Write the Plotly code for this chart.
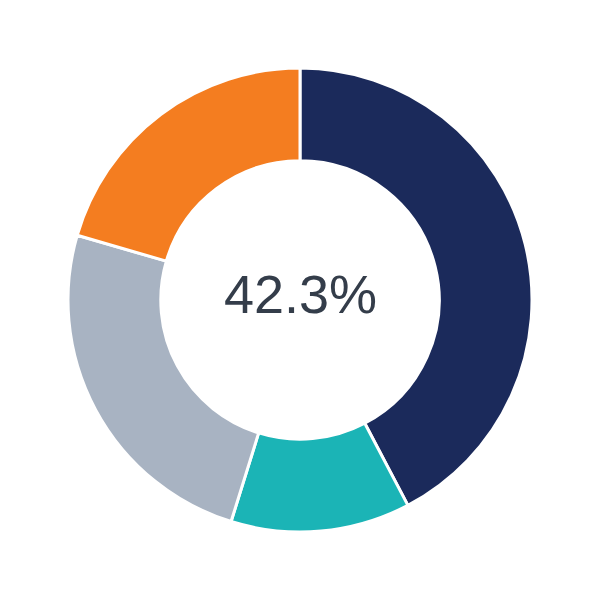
import plotly.graph_objects as go

labels = ["Navy", "Teal", "Gray", "Orange"]
values = [42.3, 12.5, 24.7, 20.5]
colors = ["#1b2a5b", "#1bb4b6", "#a8b3c2", "#f47d20"]
center_text = "42.3%"

fig = go.Figure()
fig.add_trace(go.Pie(
    labels=labels,
    values=values,
    hole=0.6,
    sort=False,
    direction="clockwise",
    rotation=0,
    marker=dict(colors=colors, line=dict(color="white", width=3)),
    textinfo="none",
    hoverinfo="label+percent",
    showlegend=False,
))
fig.add_annotation(text=center_text, x=0.5, y=0.5, xref="paper", yref="paper",
                   yshift=6, showarrow=False,
                   font=dict(family="Liberation Sans", size=54, color="#343d4a"))
fig.update_layout(
    width=600, height=600,
    margin=dict(l=60, r=76, t=60, b=76),
    paper_bgcolor="white",
    plot_bgcolor="white",
)
fig.write_html("out.html")
